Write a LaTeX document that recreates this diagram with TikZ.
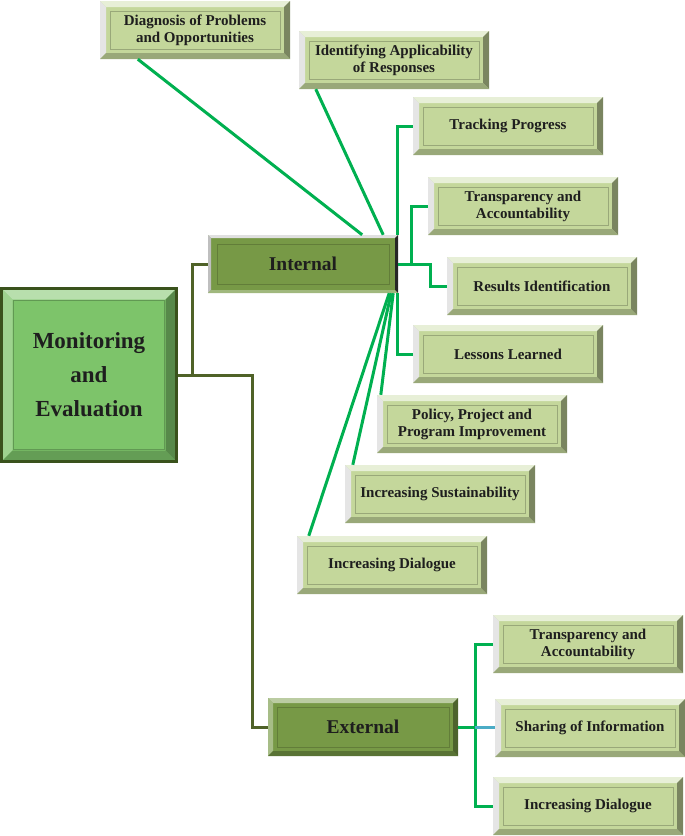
\documentclass[tikz,border=0pt]{standalone}
\usepackage{fontspec}
\setmainfont{Liberation Serif}
\definecolor{leafc}{RGB}{196,215,155}
\definecolor{intc}{RGB}{119,153,70}
\definecolor{mainc}{RGB}{125,196,106}
\definecolor{maindark}{RGB}{58,82,28}
\definecolor{olive}{RGB}{79,98,40}
\definecolor{grn}{RGB}{0,176,80}
\definecolor{blu}{RGB}{75,172,198}
\definecolor{txtc}{RGB}{30,30,30}
\tikzset{
  bev/.style n args={7}{path picture={
    \path (path picture bounding box.north west) coordinate (b1)
          (path picture bounding box.north east) coordinate (b2)
          (path picture bounding box.south east) coordinate (b3)
          (path picture bounding box.south west) coordinate (b4);
    \fill[#2] (b1) -- (b2) -- ([shift={(-#1,-#1)}]b2) -- ([shift={(#1,-#1)}]b1) -- cycle;
    \fill[#3] (b1) -- ([shift={(#1,-#1)}]b1) -- ([shift={(#1,#1)}]b4) -- (b4) -- cycle;
    \fill[#4] (b2) -- (b3) -- ([shift={(-#1,#1)}]b3) -- ([shift={(-#1,-#1)}]b2) -- cycle;
    \fill[#5] (b4) -- (b3) -- ([shift={(-#1,#1)}]b3) -- ([shift={(#1,#1)}]b4) -- cycle;
    \draw[#7, line width=0.6pt] ([shift={(#6,-#6)}]b1) rectangle ([shift={(-#6,#6)}]b3);
  }},
  leaf/.style={rectangle, minimum width=190pt, minimum height=58pt, inner sep=0pt,
    fill=leafc, text=txtc, align=center,
    font=\bfseries\fontsize{15}{17}\selectfont,
    bev={6pt}{leafc!40!white}{black!10}{black!38!leafc}{black!22!leafc}{10pt}{leafc!78!black}},
  mid/.style={rectangle, minimum width=190pt, minimum height=58pt, inner sep=0pt,
    fill=intc, text=txtc, font=\bfseries\fontsize{19.5}{22}\selectfont},
  intbev/.style={bev={3pt}{black!12}{black!25}{black!85}{intc!70!white}{9pt}{intc!82!black}},
  extbev/.style={bev={5pt}{intc!50!white}{intc!65!white}{intc!65!black}{intc!75!black}{9pt}{intc!82!black}},
  mainbox/.style={rectangle, minimum width=175pt, minimum height=173pt, inner sep=0pt,
    fill=mainc, draw=maindark, line width=3pt, text=txtc, align=center,
    font=\bfseries\fontsize{23}{34}\selectfont,
    bev={11pt}{mainc!55!white}{mainc!75!white}{mainc!70!black}{mainc!80!black}{12pt}{mainc!78!black}},
  gline/.style={draw=grn, line width=3pt},
  oline/.style={draw=olive, line width=3pt},
  bline/.style={draw=blu, line width=3pt}
}
\begin{document}
\begin{tikzpicture}[x=1pt,y=-1pt]
\useasboundingbox (0,0) rectangle (685,836);
% main boxes
\node[mainbox] (me) at (89,375) {Monitoring\\and\\Evaluation};
\node[mid, intbev] (int) at (303,264) {Internal};
\node[mid, extbev] (ext) at (363,727) {External};
% internal leaves
\node[leaf] (diag) at (195,30) {Diagnosis of Problems\\and Opportunities};
\node[leaf] (ident) at (394,60) {Identifying Applicability\\of Responses};
\node[leaf] (track) at (508,126) {Tracking Progress};
\node[leaf] (trans) at (523,206) {Transparency and\\Accountability};
\node[leaf] (res) at (542,286) {Results Identification};
\node[leaf] (les) at (508,354) {Lessons Learned};
\node[leaf] (pol) at (472,424) {Policy, Project and\\Program Improvement};
\node[leaf] (sus) at (440,494) {Increasing Sustainability};
\node[leaf] (dia) at (392,565) {Increasing Dialogue};
% external leaves
\node[leaf] (etr) at (588,644) {Transparency and\\Accountability};
\node[leaf] (esh) at (590,728) {Sharing of Information};
\node[leaf] (edi) at (588,806) {Increasing Dialogue};
% olive connectors
\draw[oline] (me.east) -- ++(14pt,0) |- (int.west);
\draw[oline] (me.east) -- ++(74pt,0) |- (ext.west);
% green connectors from Internal
\draw[gline] ([xshift=38pt]diag.south west) -- ([xshift=-36pt]int.north east);
\draw[gline] ([xshift=17pt]ident.south west) -- ([xshift=-15pt]int.north east);
\draw[gline] ([xshift=-1pt]int.north east) |- (track.west);
\draw[gline] (int.east) -- ++(13pt,0) |- (trans.west);
\draw[gline] (int.east) -- ++(32pt,0) |- (res.west);
\draw[gline] ([xshift=-1pt]int.south east) |- (les.west);
\draw[gline] ([xshift=-5pt]int.south east) -- ([xshift=4pt]pol.north west);
\draw[gline] ([xshift=-7pt]int.south east) -- ([xshift=8pt]sus.north west);
\draw[gline] ([xshift=-9pt]int.south east) -- ([xshift=12pt]dia.north west);
% external connectors
\draw[gline] (ext.east) -- ++(17pt,0) coordinate (ej);
\draw[gline] (ej) |- (etr.west);
\draw[gline] (ej) |- (edi.west);
\draw[bline] (ej) -- (esh.west |- ej);
\end{tikzpicture}
\end{document}
